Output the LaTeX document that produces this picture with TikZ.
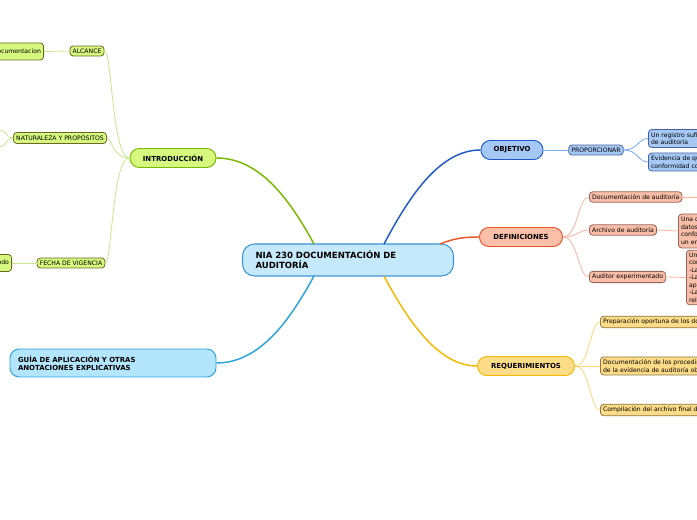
\documentclass[tikz,border=0pt]{standalone}
\usepackage{fontspec}
\setmainfont{DejaVu Sans}
\begin{document}
\begin{tikzpicture}[x=0.75pt,y=-0.75pt,
 base/.style={draw,rounded corners=2.5pt,line width=0.6pt,inner sep=2pt,align=left,font=\fontsize{4.6}{5.6}\selectfont},
 gsub/.style={base,fill=green!20!yellow!55!white,draw=olive!70!black,fill={rgb,255:red,214;green,248;blue,127}},
 rsub/.style={base,fill={rgb,255:red,249;green,190;blue,168},draw={rgb,255:red,150;green,100;blue,90}},
 bsub/.style={base,fill={rgb,255:red,165;green,200;blue,245},draw={rgb,255:red,70;green,100;blue,160}},
 ysub/.style={base,fill={rgb,255:red,253;green,220;blue,135},draw={rgb,255:red,140;green,120;blue,70}},
 main/.style={draw,rounded corners=7pt,line width=0.7pt,font=\bfseries\fontsize{5.2}{6}\selectfont,inner sep=4pt,align=left},
 gl/.style={draw={rgb,255:red,200;green,230;blue,140},line width=0.6pt},
 rl/.style={draw={rgb,255:red,250;green,180;blue,160},line width=0.6pt},
 bl/.style={draw={rgb,255:red,120;green,170;blue,240},line width=0.6pt},
 yl/.style={draw={rgb,255:red,253;green,215;blue,120},line width=0.6pt}]
\useasboundingbox (0,0) rectangle (697,520);
\clip (0,0) rectangle (697,520);
\fill[white] (0,0) rectangle (697,520);
% central
\node[draw={rgb,255:red,59;green,150;blue,210},fill={rgb,255:red,197;green,233;blue,251},rounded corners=9pt,line width=0.8pt,minimum width=211*0.75pt,minimum height=32*0.75pt,align=left,font=\bfseries\fontsize{6.4}{7.4}\selectfont,text width=185*0.75pt] (c) at (348,260) {NIA 230 DOCUMENTACIÓN DE\\AUDITORÍA};
% main topics
\node[main,fill={rgb,255:red,214;green,248;blue,127},draw={rgb,255:red,122;green,184;blue,0},minimum width=86*0.75pt,minimum height=19*0.75pt] (intro) at (173,158) {INTRODUCCIÓN};
\node[main,fill={rgb,255:red,179;green,229;blue,252},draw={rgb,255:red,42;green,164;blue,221},minimum width=206*0.75pt,minimum height=28*0.75pt,text width=190*0.75pt] (guia) at (113,363) {GUÍA DE APLICACIÓN Y OTRAS\\ANOTACIONES EXPLICATIVAS};
\node[main,fill={rgb,255:red,165;green,200;blue,245},draw={rgb,255:red,30;green,91;blue,198},minimum width=62*0.75pt,minimum height=19*0.75pt] (obj) at (512,150) {OBJETIVO};
\node[main,fill={rgb,255:red,249;green,191;blue,169},draw={rgb,255:red,232;green,87;blue,42},minimum width=83*0.75pt,minimum height=19*0.75pt] (def) at (521,237) {DEFINICIONES};
\node[main,fill={rgb,255:red,253;green,220;blue,135},draw={rgb,255:red,245;green,184;blue,0},minimum width=97*0.75pt,minimum height=19*0.75pt] (req) at (526,366) {REQUERIMIENTOS};
% main connectors
\draw[line width=1.1pt,draw={rgb,255:red,122;green,184;blue,0}] (314,244) .. controls (290,200) and (260,158) .. (intro.east);
\draw[line width=1.1pt,draw={rgb,255:red,42;green,164;blue,221}] (314,276) .. controls (290,320) and (260,363) .. (guia.east);
\draw[line width=1.1pt,draw={rgb,255:red,30;green,91;blue,198}] (384,244) .. controls (410,195) and (440,150) .. (obj.west);
\draw[line width=1.1pt,draw={rgb,255:red,232;green,87;blue,42}] (440,244) .. controls (455,238) and (465,237) .. (def.west);
\draw[line width=1.1pt,draw={rgb,255:red,245;green,184;blue,0}] (384,276) .. controls (410,325) and (440,366) .. (req.west);
% intro children
\node[gsub] (alc) at (87,51) {ALCANCE};
\node[gsub] (nat) at (60,138) {NATURALEZA Y PROPÓSITOS};
\node[gsub] (fec) at (71,263) {FECHA DE VIGENCIA};
\node[gsub,anchor=east,minimum height=17*0.75pt] (alc2) at (44,51.5) {La documentacion};
\node[gsub,anchor=east,minimum height=17*0.75pt] (fec2) at (12,263) {Vigente desde periodo};
\coordinate (nat2) at (0,130);\coordinate (nat3) at (0,147);
\draw[gl] (intro.west) .. controls (112,158) and (112,51) .. (alc.east);
\draw[gl] (intro.west) .. controls (112,158) and (112,138) .. (nat.east);
\draw[gl] (intro.west) .. controls (112,158) and (112,263) .. (fec.east);
\draw[gl] (alc.west) -- (alc2.east);
\draw[gl] (fec.west) -- (fec2.east);
\draw[gl] (nat.west) .. controls (6,138) and (6,130) .. (nat2);
\draw[gl] (nat.west) .. controls (6,138) and (6,147) .. (nat3);
% objetivo
\node[bsub] (prop) at (596,150) {PROPORCIONAR};
\node[bsub,anchor=west,minimum height=18*0.75pt] (o1) at (648,138.5) {Un registro suficiente y adecuado de la base del informe\\de auditoría};
\node[bsub,anchor=west,minimum height=18*0.75pt] (o2) at (648,162) {Evidencia de que la auditoría se planificó y ejecutó de\\conformidad con las NIA};
\draw[bl] (obj.east) -- (prop.west);
\draw[bl] (prop.east) .. controls (638,150) and (638,138.5) .. (o1.west);
\draw[bl] (prop.east) .. controls (638,150) and (638,162) .. (o2.west);
% definiciones
\node[rsub,anchor=west] (d1) at (589,197) {Documentación de auditoría};
\node[rsub,anchor=west] (d2) at (589,230) {Archivo de auditoría};
\node[rsub,anchor=west] (d3) at (589,277) {Auditor experimentado};
\node[rsub,anchor=west,minimum height=31*0.75pt] (d2b) at (678,231) {Una o más carpetas\\datos físicos o electrónicos\\conforman la documentación de\\un encargo};
\node[rsub,anchor=west,minimum height=49*0.75pt] (d3b) at (686,277.5) {Una persona\\con experiencia\\-La\\-La\\apr\\-La\\rel};
\coordinate (d1b) at (697,197);
\draw[rl] (def.east) .. controls (578,237) and (578,197) .. (d1.west);
\draw[rl] (def.east) .. controls (578,237) and (578,230) .. (d2.west);
\draw[rl] (def.east) .. controls (578,237) and (578,277) .. (d3.west);
\draw[rl] (d1.east) -- (d1b);
\draw[rl] (d2.east) -- (d2b.west);
\draw[rl] (d3.east) -- (d3b.west);
% requerimientos
\node[ysub,anchor=west] (r1) at (600,322) {Preparación oportuna de los documentos de auditoría};
\node[ysub,anchor=west,minimum height=18*0.75pt] (r2) at (600,366) {Documentación de los procedimientos aplicados y\\de la evidencia de auditoría obtenida};
\node[ysub,anchor=west] (r3) at (600,410) {Compilación del archivo final de auditoría};
\draw[yl] (req.east) .. controls (590,366) and (590,322) .. (r1.west);
\draw[yl] (req.east) -- (r2.west);
\draw[yl] (req.east) .. controls (590,366) and (590,410) .. (r3.west);
\end{tikzpicture}
\end{document}
